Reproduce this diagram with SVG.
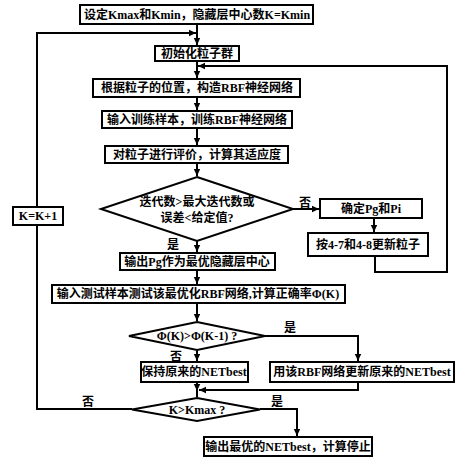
<svg xmlns="http://www.w3.org/2000/svg" width="474" height="459" viewBox="0 0 474 459">
<defs>
<marker id="ah" markerWidth="8" markerHeight="8" refX="7" refY="4" orient="auto" markerUnits="userSpaceOnUse">
<path d="M0,0.8 L7,4 L0,7.2 Z" fill="#000"/>
</marker>
<style>
rect,polygon{fill:#fff;stroke:#000;stroke-width:2}
.c{fill:none;stroke:#000;stroke-width:2}
text{font-family:"Liberation Serif","Noto Sans CJK SC",serif;font-weight:bold;font-size:12px;fill:#000;text-anchor:middle;dominant-baseline:central;white-space:pre}
</style>
</defs>
<rect x="0" y="0" width="474" height="459" style="fill:#fff;stroke:none"/>
<g id="connectors">
<path class="c" d="M197,24 V45" marker-end="url(#ah)"/>
<path class="c" d="M37,206 V33 H196" marker-end="url(#ah)"/>
<path class="c" d="M197,61 V78" marker-end="url(#ah)"/>
<path class="c" d="M375,256 V272 H447 V66 H198" marker-end="url(#ah)"/>
<path class="c" d="M197,97 V110" marker-end="url(#ah)"/>
<path class="c" d="M197,128 V145" marker-end="url(#ah)"/>
<path class="c" d="M197,163 V176" marker-end="url(#ah)"/>
<path class="c" d="M293,209 H319" marker-end="url(#ah)"/>
<path class="c" d="M374,218 V232" marker-end="url(#ah)"/>
<path class="c" d="M197,241 V252" marker-end="url(#ah)"/>
<path class="c" d="M197,270 V284" marker-end="url(#ah)"/>
<path class="c" d="M197,303 V321" marker-end="url(#ah)"/>
<path class="c" d="M265,336 H358 V361" marker-end="url(#ah)"/>
<path class="c" d="M197,350 V361" marker-end="url(#ah)"/>
<path class="c" d="M197,382 V391" marker-end="url(#ah)"/>
<path class="c" d="M197,390 V397"/>
<path class="c" d="M358,382 V390 H199" marker-end="url(#ah)"/>
<path class="c" d="M260,409 H297 V436" marker-end="url(#ah)"/>
<path class="c" d="M132,409 H37 V225"/>
<text x="305" y="203">否</text>
<text x="173" y="245">是</text>
<text x="290" y="328">是</text>
<text x="176" y="357">否</text>
<text x="88" y="402">否</text>
<text x="277" y="402">是</text>
</g>
<g id="n1"><rect x="80" y="5" width="233" height="19"/><text x="197" y="15">设定Kmax和Kmin，隐藏层中心数K=Kmin</text></g>
<g id="n2"><rect x="155" y="46" width="84" height="15"/><text x="197" y="54">初始化粒子群</text></g>
<g id="n3"><rect x="93" y="79" width="207" height="18"/><text x="197" y="88">根据粒子的位置，构造RBF神经网络</text></g>
<g id="n4"><rect x="102" y="111" width="190" height="17"/><text x="197" y="120">输入训练样本，训练RBF神经网络</text></g>
<g id="n5"><rect x="105" y="146" width="183" height="17"/><text x="197" y="155">对粒子进行评价，计算其适应度</text></g>
<g id="d1"><polygon points="197,177 293,209 197,241 101,209"/><text x="197" y="202">迭代数&gt;最大迭代数或</text><text x="197" y="218">误差&lt;给定值?</text></g>
<g id="n6"><rect x="320" y="199" width="102" height="19"/><text x="371" y="209">确定Pg和Pi</text></g>
<g id="n7"><rect x="308" y="233" width="120" height="23"/><text x="368" y="245">按4-7和4-8更新粒子</text></g>
<g id="n8"><rect x="13" y="207" width="50" height="18"/><text x="38" y="216">K=K+1</text></g>
<g id="n9"><rect x="120" y="253" width="155" height="17"/><text x="197" y="262">输出Pg作为最优隐藏层中心</text></g>
<g id="n10"><rect x="52" y="285" width="293" height="18"/><text x="198" y="294">输入测试样本测试该最优化RBF网络,计算正确率Φ(K)</text></g>
<g id="d2"><polygon points="197,322 265,336 197,350 129,336"/><text x="197" y="336">Φ(K)&gt;Φ(K-1) ?</text></g>
<g id="n11"><rect x="141" y="362" width="107" height="20"/><text x="194" y="372">保持原来的NETbest</text></g>
<g id="n12"><rect x="270" y="362" width="184" height="20"/><text x="362" y="372">用该RBF网络更新原来的NETbest</text></g>
<g id="d3"><polygon points="197,398 260,409.5 197,421 132,409.5"/><text x="197" y="410">K&gt;Kmax ?</text></g>
<g id="n13"><rect x="204" y="437" width="168" height="19"/><text x="288" y="447">输出最优的NETbest，计算停止</text></g>
</svg>
